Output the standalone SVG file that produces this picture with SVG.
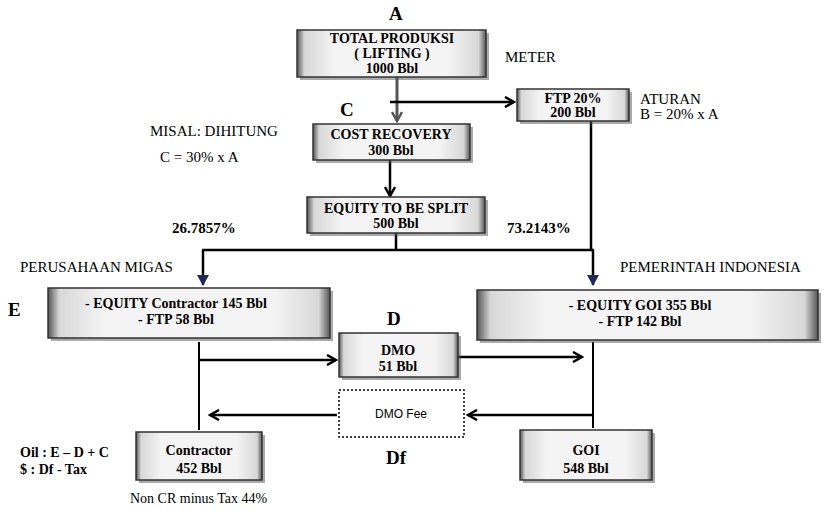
<svg xmlns="http://www.w3.org/2000/svg" width="829" height="519" viewBox="0 0 829 519">
<defs>
<linearGradient id="g" x1="0" x2="1" y1="0" y2="0">
<stop offset="0" stop-color="#555"/><stop offset="0.04" stop-color="#d8d8d8"/><stop offset="0.2" stop-color="#f4f4f4"/><stop offset="0.8" stop-color="#f4f4f4"/><stop offset="0.96" stop-color="#d8d8d8"/><stop offset="1" stop-color="#555"/>
</linearGradient>
<marker id="ab" markerWidth="12" markerHeight="12" refX="10" refY="6" orient="auto" markerUnits="userSpaceOnUse"><path d="M1,1 L10,6 L1,11" fill="none" stroke="#000" stroke-width="2.5"/></marker>
<marker id="ag" markerWidth="12" markerHeight="12" refX="10" refY="6" orient="auto" markerUnits="userSpaceOnUse"><path d="M1,1 L10,6 L1,11" fill="none" stroke="#555" stroke-width="2.5"/></marker>
<marker id="an" markerWidth="12" markerHeight="12" refX="10" refY="6" orient="auto" markerUnits="userSpaceOnUse"><path d="M0,0 L11,6 L0,12 Z" fill="#1f2a5a"/></marker>
</defs>
<style>
.b{fill:url(#g);stroke:#333;stroke-width:1.5}
.s{fill:#555;opacity:0.5}
text{font-family:"Liberation Serif",serif;fill:#000}
.t{font-weight:bold;font-size:14px;text-anchor:middle}
.l{font-size:15px}
.L{font-weight:bold;font-size:19px}
.c{stroke:#000;stroke-width:2.5;fill:none}
</style>
<rect width="829" height="519" fill="#fff"/>
<g id="connectors">
<line x1="397" y1="77" x2="397" y2="121" stroke="#555" stroke-width="3" marker-end="url(#ag)"/>
<line class="c" x1="390" y1="102" x2="514" y2="102" marker-end="url(#ab)"/>
<line class="c" x1="390" y1="160" x2="390" y2="196" marker-end="url(#ab)"/>
<line class="c" x1="396" y1="233" x2="396" y2="250"/>
<line class="c" x1="591" y1="121" x2="591" y2="250"/>
<line class="c" x1="202" y1="250" x2="594" y2="250"/>
<line class="c" x1="203" y1="250" x2="203" y2="285" marker-end="url(#an)"/>
<line class="c" x1="593" y1="250" x2="593" y2="285" marker-end="url(#an)"/>
<line stroke="#000" stroke-width="2" x1="199" y1="342" x2="199" y2="430"/>
<line class="c" x1="199" y1="360" x2="336" y2="360" marker-end="url(#ab)"/>
<line class="c" x1="458" y1="357" x2="582" y2="357" marker-end="url(#ab)"/>
<line stroke="#000" stroke-width="2" x1="593" y1="342" x2="593" y2="428"/>
<line class="c" x1="593" y1="415" x2="468" y2="415" marker-end="url(#ab)"/>
<line class="c" x1="337" y1="415" x2="210" y2="415" marker-end="url(#ab)"/>
</g>
<g id="nA"><rect class="s" x="300" y="33" width="189" height="47"/><rect class="b" x="297" y="30" width="189" height="47"/>
<text class="t" x="392" y="43">TOTAL PRODUKSI</text><text class="t" x="392" y="58">( LIFTING )</text><text class="t" x="392" y="73">1000 Bbl</text></g>
<g id="nFTP"><rect class="s" x="520" y="92" width="112" height="32"/><rect class="b" x="517" y="89" width="112" height="32"/>
<text class="t" x="573" y="103">FTP 20%</text><text class="t" x="573" y="117">200 Bbl</text></g>
<g id="nC"><rect class="s" x="316" y="127" width="157" height="36"/><rect class="b" x="313" y="124" width="157" height="36"/>
<text class="t" x="391" y="139">COST  RECOVERY</text><text class="t" x="391" y="155">300 Bbl</text></g>
<g id="nEq"><rect class="s" x="310" y="200" width="178" height="36"/><rect class="b" x="307" y="197" width="178" height="36"/>
<text class="t" x="396" y="213">EQUITY TO BE SPLIT</text><text class="t" x="396" y="228">500 Bbl</text></g>
<g id="nE"><rect class="s" x="51" y="291" width="282" height="50"/><rect class="b" x="48" y="288" width="282" height="50"/>
<text class="t" x="176" y="308">- EQUITY Contractor  145 Bbl</text><text class="t" x="176" y="324">- FTP 58 Bbl</text></g>
<g id="nGOIEq"><rect class="s" x="480" y="293" width="341" height="50"/><rect class="b" x="477" y="290" width="341" height="50"/>
<text class="t" x="640" y="310">- EQUITY GOI 355 Bbl</text><text class="t" x="640" y="326">- FTP 142 Bbl</text></g>
<g id="nDMO"><rect class="s" x="342" y="336" width="119" height="44"/><rect class="b" x="339" y="333" width="119" height="44"/>
<text class="t" x="398" y="355">DMO</text><text class="t" x="398" y="371">51 Bbl</text></g>
<g id="nFee"><rect x="339" y="390" width="125" height="47" fill="#fff" stroke="#000" stroke-width="1.5" stroke-dasharray="2,2"/>
<text x="401" y="418" text-anchor="middle" style="font-family:'Liberation Sans',sans-serif;font-size:12px">DMO Fee</text></g>
<g id="nCon"><rect class="s" x="139" y="435" width="126" height="48"/><rect class="b" x="136" y="432" width="126" height="48"/>
<text class="t" x="199" y="455">Contractor</text><text class="t" x="199" y="473">452 Bbl</text></g>
<g id="nGOI"><rect class="s" x="523" y="433" width="132" height="50"/><rect class="b" x="520" y="430" width="132" height="50"/>
<text class="t" x="586" y="455">GOI</text><text class="t" x="586" y="473">548 Bbl</text></g>
<g id="labels">
<text class="L" x="389" y="20">A</text>
<text class="L" x="340" y="116">C</text>
<text class="L" x="8" y="316">E</text>
<text class="L" x="387" y="325">D</text>
<text class="L" x="386" y="464">Df</text>
<text class="l" x="505" y="62">METER</text>
<text class="l" x="640" y="104">ATURAN</text>
<text class="l" x="640" y="119">B = 20% x A</text>
<text class="l" x="150" y="136">MISAL: DIHITUNG</text>
<text class="l" x="160" y="162">C = 30% x  A</text>
<text class="l" x="172" y="233" font-weight="bold">26.7857%</text>
<text class="l" x="507" y="233" font-weight="bold">73.2143%</text>
<text class="l" x="20" y="272">PERUSAHAAN MIGAS</text>
<text class="l" x="620" y="272">PEMERINTAH INDONESIA</text>
<text x="20" y="457" style="font-weight:bold;font-size:14px">Oil : E – D + C</text>
<text x="20" y="474" style="font-weight:bold;font-size:14px">$ : Df - Tax</text>
<text x="130" y="503" style="font-size:14px">Non CR minus Tax 44%</text>
</g>
</svg>
